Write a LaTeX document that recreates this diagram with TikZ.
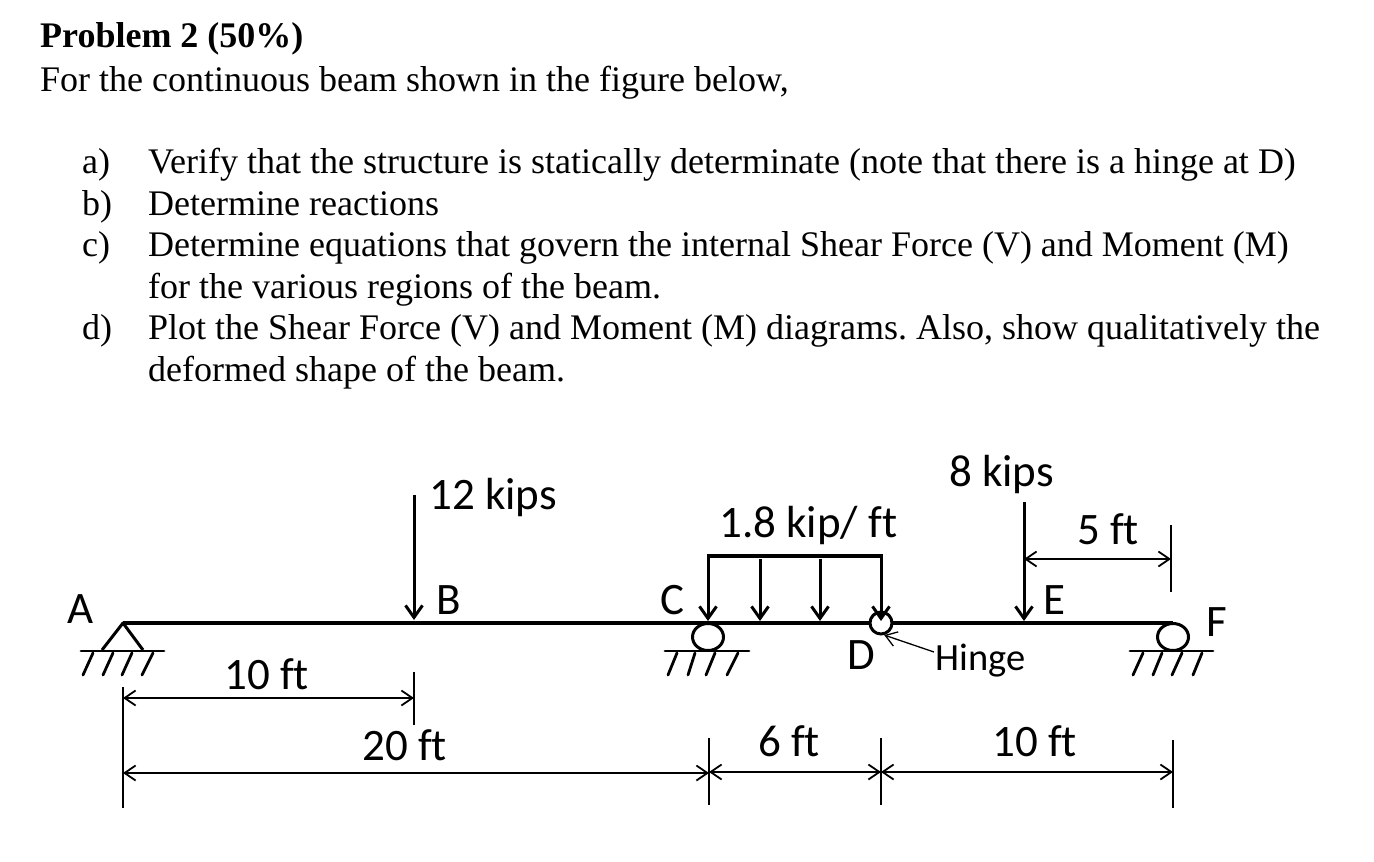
\documentclass[tikz,border=0pt]{standalone}
\usepackage{fontspec}
\setmainfont{Liberation Serif}
\newfontfamily\figfont[Ligatures=NoCommon]{Carlito}
\usetikzlibrary{arrows.meta,shapes.geometric}
\tikzset{
  body/.style={anchor=base west,inner sep=0pt,font=\fontsize{36}{36}\selectfont\frenchspacing},
  bodybold/.style={body,font=\fontsize{36}{36}\selectfont\bfseries},
  lbl/.style={anchor=base west,inner sep=0pt,font=\figfont\fontsize{45}{45}\selectfont},
  smalllbl/.style={anchor=base west,inner sep=0pt,font=\figfont\fontsize{38.5}{38}\selectfont},
  beamline/.style={line width=3.6pt,black},
  force/.style={line width=3pt,-{Straight Barb[length=12pt,width=17pt,line width=3pt]}},
  dim/.style={line width=1.8pt,{Straight Barb[length=11pt,width=15pt,line width=1.8pt]}-{Straight Barb[length=11pt,width=15pt,line width=1.8pt]}},
  leader/.style={line width=1.3pt,-{Straight Barb[length=11pt,width=15pt,line width=1.3pt]}},
  tick/.style={line width=1.8pt},
  ground/.style={line width=2.8pt,line cap=round},
  roller/.style={ellipse,draw,line width=3pt,fill=white,inner sep=0pt,minimum width=31pt,minimum height=27pt},
  hinge/.style={circle,draw,line width=3pt,fill=white,inner sep=0pt,minimum size=22pt},
}
\begin{document}
\begin{tikzpicture}[x=1pt,y=-1pt]
\useasboundingbox (0,0) rectangle (1374,862);
\fill[white] (0,0) rectangle (1374,862);
% text block
\node[bodybold] (t1) at (40,47.5) {Problem 2 (50\%)};
\node[body] (t2) at (40,91) {For the continuous beam shown in the figure below,};
\node[body] (a1) at (82,173) {a)};
\node[body] (a2) at (148,173) {Verify that the structure is statically determinate (note that there is a hinge at D)};
\node[body] (b1) at (82,215) {b)};
\node[body] (b2) at (148,215) {Determine reactions};
\node[body] (c1) at (82,256) {c)};
\node[body] (c2) at (148,256) {Determine equations that govern the internal Shear Force (V) and Moment (M)};
\node[body] (c3) at (148,298) {for the various regions of the beam.};
\node[body] (d1) at (82,339) {d)};
\node[body] (d2) at (148,339) {Plot the Shear Force (V) and Moment (M) diagrams. Also, show qualitatively the};
\node[body] (d3) at (148,381) {deformed shape of the beam.};
% key points on the beam
\coordinate (A) at (123,623);
\coordinate (B) at (414,623);
\coordinate (C) at (708,623);
\coordinate (D) at (881,623);
\coordinate (E) at (1024,623);
\coordinate (F) at (1173,623);
% beam
\draw[beamline] (A) -- (F);
% support A
\coordinate (Al) at (102,650);
\coordinate (Ar) at (143,650);
\draw[line width=3pt,line join=round] (Al) -- (A) -- (Ar);
\draw[ground] (81,651) -- (164,651);
\foreach \tx/\bx in {93/83,113/103,132/122,153/142}{\draw[ground] (\tx,653) -- (\bx,675);}
% support C
\node[roller] (rc) at (708,637) {};
\draw[ground] (665,651) -- (749,651);
\foreach \tx/\bx in {677/668,695/688,715/706,738/727}{\draw[ground] (\tx,653) -- (\bx,675);}
% support F
\node[roller] (rf) at (1173,637) {};
\draw[ground] (1130,651) -- (1213,651);
\foreach \tx/\bx in {1143/1133,1162/1153,1182/1172,1202/1193}{\draw[ground] (\tx,653) -- (\bx,675);}
% hinge
\node[hinge] (hg) at (D) {};
% point loads
\coordinate (Btop) at (414,495);
\coordinate (Btip) at (414,620);
\draw[force] (Btop) -- (Btip);
\coordinate (Etop) at (1024,502);
\coordinate (Etip) at (1024,621);
\draw[force] (Etop) -- (Etip);
% distributed load
\coordinate (u1) at (708,556);
\coordinate (u2) at (760,559);
\coordinate (u3) at (820,559);
\coordinate (u4) at (881,556);
\draw[line width=3.2pt] (706.5,556) -- (882.5,556);
\draw[force] (u1) -- (708,621);
\draw[force] (u2) -- (760,621);
\draw[force] (u3) -- (820,621);
\draw[force] (u4) -- (881,621);
% dimensions
\coordinate (t1a) at (123,687);
\coordinate (t1b) at (123,808);
\coordinate (t2a) at (414,672);
\coordinate (t2b) at (414,725);
\coordinate (t3a) at (709,738);
\coordinate (t3b) at (709,805);
\coordinate (t4a) at (881,738);
\coordinate (t4b) at (881,805);
\coordinate (t5a) at (1173,740);
\coordinate (t5b) at (1173,808);
\coordinate (t6a) at (1171,525);
\coordinate (t6b) at (1171,592);
\draw[tick] (t1a) -- (t1b);
\draw[tick] (t2a) -- (t2b);
\draw[tick] (t3a) -- (t3b);
\draw[tick] (t4a) -- (t4b);
\draw[tick] (t5a) -- (t5b);
\draw[tick] (t6a) -- (t6b);
\draw[dim] (123,698) -- (414,698);
\draw[dim] (123,773) -- (709,773);
\draw[dim] (709,772) -- (881,772);
\draw[dim] (881,772) -- (1173,772);
\draw[dim] (1024,559) -- (1171,559);
% labels
\node[lbl] (la) at (67,623) {A};
\node[lbl] (lb) at (436,614) {B};
\node[lbl] (lc) at (660,614) {C};
\node[lbl] (ld) at (847,669) {D};
\node[lbl] (le) at (1043,614) {E};
\node[lbl] (lf) at (1206,636) {F};
\node[lbl] (f12) at (429,509) {12 kips};
\node[lbl] (f8) at (949,486) {8 kips};
\node[lbl] (w) at (719,537) {1.8 kip/ ft};
\node[lbl] (d10a) at (224,689) {10 ft};
\node[lbl] (d20) at (362,760) {20 ft};
\node[lbl] (d6) at (758,756) {6 ft};
\node[lbl] (d10b) at (992,756) {10 ft};
\node[lbl] (d5) at (1077,544) {5 ft};
\node[smalllbl] (hl) at (935,670) {Hinge};
\coordinate (hstart) at (934,652);
\draw[leader] (hstart) -- (hg.-75);
\end{tikzpicture}
\end{document}
